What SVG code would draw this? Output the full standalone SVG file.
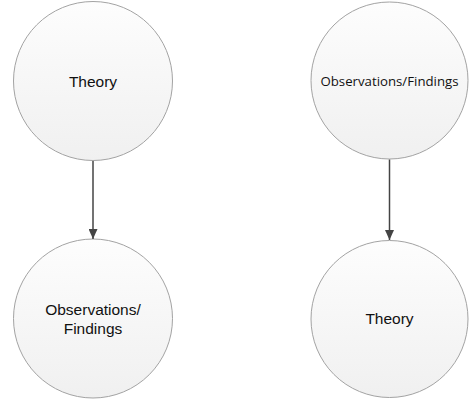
<svg xmlns="http://www.w3.org/2000/svg" width="474" height="415" viewBox="0 0 474 415">
<style>
.node circle{fill:url(#g);stroke:#a3a3a3;stroke-width:1}
.a{font-family:"Liberation Sans",Arial,sans-serif;font-size:15.5px;fill:#111;text-anchor:middle}
.c{font-family:"Open Sans","Noto Sans",sans-serif;font-size:13.5px;fill:#111;text-anchor:middle}
.edge{stroke:#444;stroke-width:1.5;fill:none;marker-end:url(#arr)}
</style>
<defs>
<linearGradient id="g" x1="0" y1="0" x2="0" y2="1">
<stop offset="0" stop-color="#fdfdfd"/>
<stop offset="1" stop-color="#f0f0f0"/>
</linearGradient>
<marker id="arr" viewBox="0 0 10 9" refX="10" refY="4.5" markerWidth="10" markerHeight="9" markerUnits="userSpaceOnUse" orient="auto">
<path d="M0,0 L10,4.5 L0,9 z" fill="#444"/>
</marker>
</defs>
<rect width="474" height="415" fill="#fff"/>
<g id="n1" class="node"><circle cx="93" cy="81" r="79.5"/><text class="a" x="93" y="87">Theory</text></g>
<g id="n2" class="node"><circle cx="93" cy="318.5" r="79.5"/><text class="a" x="93" y="315">Observations/</text><text class="a" x="93" y="334">Findings</text></g>
<g id="n3" class="node"><circle cx="389.5" cy="80.5" r="78.5"/><text class="c" x="389.5" y="86" textLength="138" lengthAdjust="spacingAndGlyphs">Observations/Findings</text></g>
<g id="n4" class="node"><circle cx="389.5" cy="319" r="78.5"/><text class="a" x="389.5" y="324">Theory</text></g>
<g id="edges">
<path class="edge" d="M93,161 L93,239"/>
<path class="edge" d="M389.5,159.5 L389.5,240"/>
</g>
</svg>
